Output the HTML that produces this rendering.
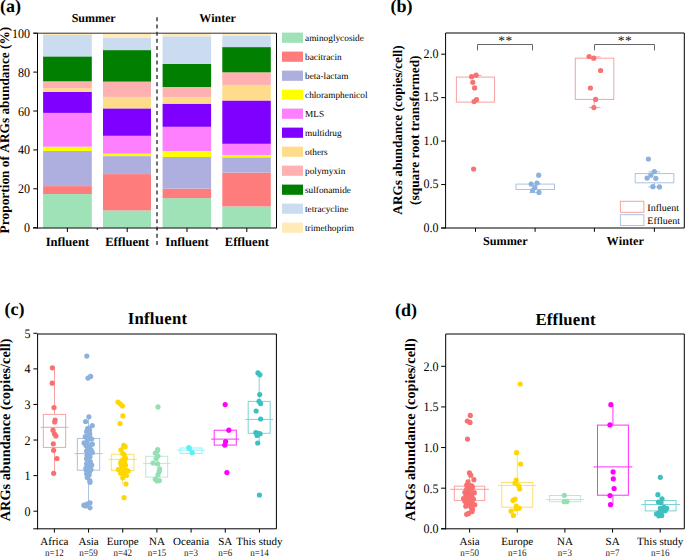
<!DOCTYPE html>
<html><head><meta charset="utf-8"><style>
html,body{margin:0;padding:0;background:#fff;}
svg{display:block;font-family:"Liberation Serif", serif;text-rendering:geometricPrecision;font-variant-ligatures:none;font-kerning:none;}
</style></head><body>
<svg width="685" height="556" viewBox="0 0 685 556">
<rect width="685" height="556" fill="#fff"/>
<text x="0" y="12" font-size="18" font-weight="bold" text-anchor="start" fill="#000" >(a)</text>
<rect x="43.10" y="194.00" width="48.70" height="33.70" fill="#A0E2B8" stroke="none" stroke-width="1" />
<rect x="43.10" y="186.10" width="48.70" height="7.90" fill="#FF7C7C" stroke="none" stroke-width="1" />
<rect x="43.10" y="151.00" width="48.70" height="35.10" fill="#AFAFDF" stroke="none" stroke-width="1" />
<rect x="43.10" y="146.70" width="48.70" height="4.30" fill="#FFFF00" stroke="none" stroke-width="1" />
<rect x="43.10" y="112.90" width="48.70" height="33.80" fill="#FF80FF" stroke="none" stroke-width="1" />
<rect x="43.10" y="91.90" width="48.70" height="21.00" fill="#7F00FF" stroke="none" stroke-width="1" />
<rect x="43.10" y="88.10" width="48.70" height="3.80" fill="#FFDC8C" stroke="none" stroke-width="1" />
<rect x="43.10" y="81.30" width="48.70" height="6.80" fill="#FFB0B0" stroke="none" stroke-width="1" />
<rect x="43.10" y="56.40" width="48.70" height="24.90" fill="#007F00" stroke="none" stroke-width="1" />
<rect x="43.10" y="35.00" width="48.70" height="21.40" fill="#CCDCF0" stroke="none" stroke-width="1" />
<rect x="43.10" y="33.20" width="48.70" height="1.80" fill="#FFEAB8" stroke="none" stroke-width="1" />
<rect x="103.00" y="210.40" width="48.00" height="17.30" fill="#A0E2B8" stroke="none" stroke-width="1" />
<rect x="103.00" y="174.10" width="48.00" height="36.30" fill="#FF7C7C" stroke="none" stroke-width="1" />
<rect x="103.00" y="156.10" width="48.00" height="18.00" fill="#AFAFDF" stroke="none" stroke-width="1" />
<rect x="103.00" y="153.70" width="48.00" height="2.40" fill="#FFFF00" stroke="none" stroke-width="1" />
<rect x="103.00" y="135.80" width="48.00" height="17.90" fill="#FF80FF" stroke="none" stroke-width="1" />
<rect x="103.00" y="108.40" width="48.00" height="27.40" fill="#7F00FF" stroke="none" stroke-width="1" />
<rect x="103.00" y="96.90" width="48.00" height="11.50" fill="#FFDC8C" stroke="none" stroke-width="1" />
<rect x="103.00" y="81.60" width="48.00" height="15.30" fill="#FFB0B0" stroke="none" stroke-width="1" />
<rect x="103.00" y="50.10" width="48.00" height="31.50" fill="#007F00" stroke="none" stroke-width="1" />
<rect x="103.00" y="37.90" width="48.00" height="12.20" fill="#CCDCF0" stroke="none" stroke-width="1" />
<rect x="103.00" y="33.20" width="48.00" height="4.70" fill="#FFEAB8" stroke="none" stroke-width="1" />
<rect x="162.60" y="198.10" width="48.50" height="29.60" fill="#A0E2B8" stroke="none" stroke-width="1" />
<rect x="162.60" y="188.60" width="48.50" height="9.50" fill="#FF7C7C" stroke="none" stroke-width="1" />
<rect x="162.60" y="157.00" width="48.50" height="31.60" fill="#AFAFDF" stroke="none" stroke-width="1" />
<rect x="162.60" y="151.00" width="48.50" height="6.00" fill="#FFFF00" stroke="none" stroke-width="1" />
<rect x="162.60" y="126.80" width="48.50" height="24.20" fill="#FF80FF" stroke="none" stroke-width="1" />
<rect x="162.60" y="103.70" width="48.50" height="23.10" fill="#7F00FF" stroke="none" stroke-width="1" />
<rect x="162.60" y="97.10" width="48.50" height="6.60" fill="#FFDC8C" stroke="none" stroke-width="1" />
<rect x="162.60" y="87.00" width="48.50" height="10.10" fill="#FFB0B0" stroke="none" stroke-width="1" />
<rect x="162.60" y="63.80" width="48.50" height="23.20" fill="#007F00" stroke="none" stroke-width="1" />
<rect x="162.60" y="36.30" width="48.50" height="27.50" fill="#CCDCF0" stroke="none" stroke-width="1" />
<rect x="162.60" y="33.20" width="48.50" height="3.10" fill="#FFEAB8" stroke="none" stroke-width="1" />
<rect x="222.30" y="206.40" width="48.50" height="21.30" fill="#A0E2B8" stroke="none" stroke-width="1" />
<rect x="222.30" y="172.60" width="48.50" height="33.80" fill="#FF7C7C" stroke="none" stroke-width="1" />
<rect x="222.30" y="157.30" width="48.50" height="15.30" fill="#AFAFDF" stroke="none" stroke-width="1" />
<rect x="222.30" y="155.20" width="48.50" height="2.10" fill="#FFFF00" stroke="none" stroke-width="1" />
<rect x="222.30" y="143.80" width="48.50" height="11.40" fill="#FF80FF" stroke="none" stroke-width="1" />
<rect x="222.30" y="100.50" width="48.50" height="43.30" fill="#7F00FF" stroke="none" stroke-width="1" />
<rect x="222.30" y="84.90" width="48.50" height="15.60" fill="#FFDC8C" stroke="none" stroke-width="1" />
<rect x="222.30" y="72.30" width="48.50" height="12.60" fill="#FFB0B0" stroke="none" stroke-width="1" />
<rect x="222.30" y="47.10" width="48.50" height="25.20" fill="#007F00" stroke="none" stroke-width="1" />
<rect x="222.30" y="35.80" width="48.50" height="11.30" fill="#CCDCF0" stroke="none" stroke-width="1" />
<rect x="222.30" y="33.20" width="48.50" height="2.60" fill="#FFEAB8" stroke="none" stroke-width="1" />
<line x1="37.5" y1="33.2" x2="37.5" y2="228.5" stroke="#000" stroke-width="1" />
<line x1="33.0" y1="228.0" x2="276.5" y2="228.0" stroke="#000" stroke-width="1" />
<line x1="33.3" y1="33.2" x2="276.5" y2="33.2" stroke="#333" stroke-width="1" />
<line x1="276.5" y1="33.2" x2="276.5" y2="228.0" stroke="#000" stroke-width="1" />
<line x1="33.3" y1="227.7" x2="37.5" y2="227.7" stroke="#000" stroke-width="1" />
<text transform="translate(30.00,232.20) scale(0.925,1)" font-size="13" font-weight="normal" text-anchor="end" fill="#000" >0</text>
<line x1="33.3" y1="188.79999999999998" x2="37.5" y2="188.79999999999998" stroke="#000" stroke-width="1" />
<text transform="translate(30.00,193.30) scale(0.925,1)" font-size="13" font-weight="normal" text-anchor="end" fill="#000" >20</text>
<line x1="33.3" y1="149.89999999999998" x2="37.5" y2="149.89999999999998" stroke="#000" stroke-width="1" />
<text transform="translate(30.00,154.40) scale(0.925,1)" font-size="13" font-weight="normal" text-anchor="end" fill="#000" >40</text>
<line x1="33.3" y1="110.99999999999999" x2="37.5" y2="110.99999999999999" stroke="#000" stroke-width="1" />
<text transform="translate(30.00,115.50) scale(0.925,1)" font-size="13" font-weight="normal" text-anchor="end" fill="#000" >60</text>
<line x1="33.3" y1="72.1" x2="37.5" y2="72.1" stroke="#000" stroke-width="1" />
<text transform="translate(30.00,76.60) scale(0.925,1)" font-size="13" font-weight="normal" text-anchor="end" fill="#000" >80</text>
<line x1="33.3" y1="33.19999999999999" x2="37.5" y2="33.19999999999999" stroke="#000" stroke-width="1" />
<text transform="translate(30.00,37.70) scale(0.925,1)" font-size="13" font-weight="normal" text-anchor="end" fill="#000" >100</text>
<line x1="67.4" y1="228.0" x2="67.4" y2="232.0" stroke="#000" stroke-width="1" />
<line x1="127.2" y1="228.0" x2="127.2" y2="232.0" stroke="#000" stroke-width="1" />
<line x1="187.0" y1="228.0" x2="187.0" y2="232.0" stroke="#000" stroke-width="1" />
<line x1="246.79999999999998" y1="228.0" x2="246.79999999999998" y2="232.0" stroke="#000" stroke-width="1" />
<line x1="97.3" y1="228.0" x2="97.3" y2="230.0" stroke="#000" stroke-width="1" />
<line x1="157.1" y1="228.0" x2="157.1" y2="230.0" stroke="#000" stroke-width="1" />
<line x1="216.89999999999998" y1="228.0" x2="216.89999999999998" y2="230.0" stroke="#000" stroke-width="1" />
<line x1="157" y1="17.2" x2="157" y2="245" stroke="#333" stroke-width="1.4" stroke-dasharray="4 3.22"/>
<text x="67.4" y="246" font-size="12.6" font-weight="bold" text-anchor="middle" fill="#000" >Influent</text>
<text x="127.2" y="246" font-size="12.6" font-weight="bold" text-anchor="middle" fill="#000" >Effluent</text>
<text x="187.0" y="246" font-size="12.6" font-weight="bold" text-anchor="middle" fill="#000" >Influent</text>
<text x="246.79999999999998" y="246" font-size="12.6" font-weight="bold" text-anchor="middle" fill="#000" >Effluent</text>
<text x="93.7" y="22" font-size="12" font-weight="bold" text-anchor="middle" fill="#000" >Summer</text>
<text x="217.5" y="22" font-size="12" font-weight="bold" text-anchor="middle" fill="#000" >Winter</text>
<text transform="translate(8.8,130.1) rotate(-90)" font-size="13.35" font-weight="bold" text-anchor="middle">Proportion of ARGs abundance (%)</text>
<rect x="282.00" y="32.60" width="21.00" height="10.20" fill="#A0E2B8" stroke="none" stroke-width="1" />
<text x="305" y="40.900000000000006" font-size="9.3" font-weight="normal" text-anchor="start" fill="#000" >aminoglycoside</text>
<rect x="282.00" y="51.60" width="21.00" height="10.20" fill="#FF7C7C" stroke="none" stroke-width="1" />
<text x="305" y="59.900000000000006" font-size="9.3" font-weight="normal" text-anchor="start" fill="#000" >bacitracin</text>
<rect x="282.00" y="70.60" width="21.00" height="10.20" fill="#AFAFDF" stroke="none" stroke-width="1" />
<text x="305" y="78.89999999999999" font-size="9.3" font-weight="normal" text-anchor="start" fill="#000" >beta-lactam</text>
<rect x="282.00" y="89.60" width="21.00" height="10.20" fill="#FFFF00" stroke="none" stroke-width="1" />
<text x="305" y="97.89999999999999" font-size="9.3" font-weight="normal" text-anchor="start" fill="#000" >chloramphenicol</text>
<rect x="282.00" y="108.60" width="21.00" height="10.20" fill="#FF80FF" stroke="none" stroke-width="1" />
<text x="305" y="116.89999999999999" font-size="9.3" font-weight="normal" text-anchor="start" fill="#000" >MLS</text>
<rect x="282.00" y="127.60" width="21.00" height="10.20" fill="#7F00FF" stroke="none" stroke-width="1" />
<text x="305" y="135.9" font-size="9.3" font-weight="normal" text-anchor="start" fill="#000" >multidrug</text>
<rect x="282.00" y="146.60" width="21.00" height="10.20" fill="#FFDC8C" stroke="none" stroke-width="1" />
<text x="305" y="154.9" font-size="9.3" font-weight="normal" text-anchor="start" fill="#000" >others</text>
<rect x="282.00" y="165.60" width="21.00" height="10.20" fill="#FFB0B0" stroke="none" stroke-width="1" />
<text x="305" y="173.9" font-size="9.3" font-weight="normal" text-anchor="start" fill="#000" >polymyxin</text>
<rect x="282.00" y="184.60" width="21.00" height="10.20" fill="#007F00" stroke="none" stroke-width="1" />
<text x="305" y="192.9" font-size="9.3" font-weight="normal" text-anchor="start" fill="#000" >sulfonamide</text>
<rect x="282.00" y="203.60" width="21.00" height="10.20" fill="#CCDCF0" stroke="none" stroke-width="1" />
<text x="305" y="211.9" font-size="9.3" font-weight="normal" text-anchor="start" fill="#000" >tetracycline</text>
<rect x="282.00" y="222.60" width="21.00" height="10.20" fill="#FFEAB8" stroke="none" stroke-width="1" />
<text x="305" y="230.9" font-size="9.3" font-weight="normal" text-anchor="start" fill="#000" >trimethoprim</text>
<text x="390.5" y="12" font-size="18" font-weight="bold" text-anchor="start" fill="#000" >(b)</text>
<line x1="445.6" y1="33.0" x2="445.6" y2="228.5" stroke="#000" stroke-width="1" />
<line x1="441.2" y1="228.0" x2="684.3" y2="228.0" stroke="#000" stroke-width="1" />
<line x1="445.6" y1="33.0" x2="684.3" y2="33.0" stroke="#000" stroke-width="1" />
<line x1="684.3" y1="33.0" x2="684.3" y2="228.0" stroke="#000" stroke-width="1" />
<line x1="441.2" y1="228.0" x2="445.6" y2="228.0" stroke="#000" stroke-width="1" />
<text transform="translate(438.50,231.70) scale(0.925,1)" font-size="13" font-weight="normal" text-anchor="end" fill="#000" >0.0</text>
<line x1="441.2" y1="184.55" x2="445.6" y2="184.55" stroke="#000" stroke-width="1" />
<text transform="translate(438.50,188.25) scale(0.925,1)" font-size="13" font-weight="normal" text-anchor="end" fill="#000" >0.5</text>
<line x1="441.2" y1="141.1" x2="445.6" y2="141.1" stroke="#000" stroke-width="1" />
<text transform="translate(438.50,144.80) scale(0.925,1)" font-size="13" font-weight="normal" text-anchor="end" fill="#000" >1.0</text>
<line x1="441.2" y1="97.64999999999998" x2="445.6" y2="97.64999999999998" stroke="#000" stroke-width="1" />
<text transform="translate(438.50,101.35) scale(0.925,1)" font-size="13" font-weight="normal" text-anchor="end" fill="#000" >1.5</text>
<line x1="441.2" y1="54.19999999999999" x2="445.6" y2="54.19999999999999" stroke="#000" stroke-width="1" />
<text transform="translate(438.50,57.90) scale(0.925,1)" font-size="13" font-weight="normal" text-anchor="end" fill="#000" >2.0</text>
<line x1="475.5" y1="228.0" x2="475.5" y2="231.8" stroke="#000" stroke-width="1" />
<line x1="535.1" y1="228.0" x2="535.1" y2="231.8" stroke="#000" stroke-width="1" />
<line x1="594.4" y1="228.0" x2="594.4" y2="231.8" stroke="#000" stroke-width="1" />
<line x1="654.4" y1="228.0" x2="654.4" y2="231.8" stroke="#000" stroke-width="1" />
<text x="505.3" y="244.5" font-size="12.2" font-weight="bold" text-anchor="middle" fill="#000" >Summer</text>
<text x="625.2" y="244.5" font-size="12.2" font-weight="bold" text-anchor="middle" fill="#000" >Winter</text>
<text transform="translate(401.5,130) rotate(-90)" font-size="13.25" font-weight="bold" text-anchor="middle">ARGs abundance (copies/cell)</text>
<text transform="translate(419.3,130.2) rotate(-90)" font-size="13.4" font-weight="bold" text-anchor="middle">(square root transformed)</text>
<polyline points="477.5,50.4 477.5,44.5 532.5,44.5 532.5,50.4" fill="none" stroke="#666" stroke-width="1"/>
<text x="505.6" y="44.9" font-size="13.5" font-weight="normal" text-anchor="middle" fill="#222" letter-spacing="0.6">**</text>
<polyline points="594.5,50.4 594.5,44.5 654.5,44.5 654.5,50.4" fill="none" stroke="#666" stroke-width="1"/>
<text x="625.1" y="44.9" font-size="13.5" font-weight="normal" text-anchor="middle" fill="#222" letter-spacing="0.6">**</text>
<rect x="456.40" y="77.10" width="38.20" height="25.00" fill="none" stroke="#F8A0A0" stroke-width="1" />
<line x1="472.9" y1="75.4" x2="481.4" y2="75.4" stroke="#F8A0A0" stroke-width="1" />
<circle cx="471.60" cy="76.70" r="2.6" fill="#F87272"/>
<circle cx="476.10" cy="75.20" r="2.6" fill="#F87272"/>
<circle cx="472.80" cy="82.30" r="2.6" fill="#F87272"/>
<circle cx="474.60" cy="87.90" r="2.6" fill="#F87272"/>
<circle cx="476.50" cy="99.60" r="2.6" fill="#F87272"/>
<circle cx="474.10" cy="101.60" r="2.6" fill="#F87272"/>
<circle cx="473.60" cy="169.00" r="2.6" fill="#F87272"/>
<rect x="516.00" y="184.10" width="38.50" height="5.40" fill="none" stroke="#A9C4E6" stroke-width="1" />
<line x1="537.5" y1="183.6" x2="540.7" y2="183.6" stroke="#A9C4E6" stroke-width="1" />
<line x1="529.1" y1="192.6" x2="537" y2="192.6" stroke="#A9C4E6" stroke-width="1" />
<circle cx="538.70" cy="175.20" r="2.6" fill="#8DB1DD"/>
<circle cx="531.20" cy="184.10" r="2.6" fill="#8DB1DD"/>
<circle cx="537.00" cy="183.10" r="2.6" fill="#8DB1DD"/>
<circle cx="534.80" cy="187.60" r="2.6" fill="#8DB1DD"/>
<circle cx="532.60" cy="190.50" r="2.6" fill="#8DB1DD"/>
<circle cx="539.00" cy="192.40" r="2.6" fill="#8DB1DD"/>
<rect x="575.30" y="58.20" width="38.50" height="41.20" fill="none" stroke="#F8A0A0" stroke-width="1" />
<line x1="592" y1="56.9" x2="600.6" y2="56.9" stroke="#F8A0A0" stroke-width="1" />
<line x1="594.2" y1="99.4" x2="594.2" y2="107.6" stroke="#F8A0A0" stroke-width="1" />
<line x1="588.9" y1="107.6" x2="600.6" y2="107.6" stroke="#F8A0A0" stroke-width="1" />
<circle cx="589.10" cy="56.50" r="2.6" fill="#F87272"/>
<circle cx="593.70" cy="58.20" r="2.6" fill="#F87272"/>
<circle cx="600.60" cy="70.50" r="2.6" fill="#F87272"/>
<circle cx="590.40" cy="88.00" r="2.6" fill="#F87272"/>
<circle cx="595.60" cy="99.40" r="2.6" fill="#F87272"/>
<circle cx="593.90" cy="107.60" r="2.6" fill="#F87272"/>
<rect x="635.20" y="173.60" width="38.60" height="9.20" fill="none" stroke="#A9C4E6" stroke-width="1" />
<line x1="648.4" y1="171.8" x2="660.1" y2="171.8" stroke="#A9C4E6" stroke-width="1" />
<line x1="654.5" y1="182.8" x2="654.5" y2="186.9" stroke="#A9C4E6" stroke-width="1" />
<line x1="648.4" y1="186.9" x2="660.1" y2="186.9" stroke="#A9C4E6" stroke-width="1" />
<circle cx="648.40" cy="159.00" r="2.6" fill="#8DB1DD"/>
<circle cx="654.30" cy="171.60" r="2.6" fill="#8DB1DD"/>
<circle cx="650.90" cy="175.20" r="2.6" fill="#8DB1DD"/>
<circle cx="647.10" cy="178.10" r="2.6" fill="#8DB1DD"/>
<circle cx="655.80" cy="178.30" r="2.6" fill="#8DB1DD"/>
<circle cx="652.90" cy="186.70" r="2.6" fill="#8DB1DD"/>
<circle cx="659.50" cy="186.90" r="2.6" fill="#8DB1DD"/>
<rect x="620.40" y="201.30" width="23.50" height="11.00" fill="none" stroke="#F8A0A0" stroke-width="1" />
<rect x="620.40" y="214.70" width="23.50" height="10.80" fill="none" stroke="#A9C4E6" stroke-width="1" />
<text x="647.3" y="210.8" font-size="10" font-weight="normal" text-anchor="start" fill="#000" >Influent</text>
<text x="647.3" y="223.6" font-size="10" font-weight="normal" text-anchor="start" fill="#000" >Effluent</text>
<text x="4.5" y="315" font-size="18" font-weight="bold" text-anchor="start" fill="#000" >(c)</text>
<line x1="37.6" y1="334.0" x2="37.6" y2="529.3" stroke="#000" stroke-width="1" />
<line x1="33.300000000000004" y1="528.8" x2="276.4" y2="528.8" stroke="#000" stroke-width="1" />
<line x1="37.6" y1="334.0" x2="276.4" y2="334.0" stroke="#000" stroke-width="1" />
<line x1="276.4" y1="334.0" x2="276.4" y2="528.8" stroke="#000" stroke-width="1" />
<line x1="33.4" y1="511.2" x2="37.6" y2="511.2" stroke="#000" stroke-width="1" />
<text transform="translate(30.50,515.70) scale(0.925,1)" font-size="13" font-weight="normal" text-anchor="end" fill="#000" >0</text>
<line x1="33.4" y1="475.62" x2="37.6" y2="475.62" stroke="#000" stroke-width="1" />
<text transform="translate(30.50,480.12) scale(0.925,1)" font-size="13" font-weight="normal" text-anchor="end" fill="#000" >1</text>
<line x1="33.4" y1="440.03999999999996" x2="37.6" y2="440.03999999999996" stroke="#000" stroke-width="1" />
<text transform="translate(30.50,444.54) scale(0.925,1)" font-size="13" font-weight="normal" text-anchor="end" fill="#000" >2</text>
<line x1="33.4" y1="404.46" x2="37.6" y2="404.46" stroke="#000" stroke-width="1" />
<text transform="translate(30.50,408.96) scale(0.925,1)" font-size="13" font-weight="normal" text-anchor="end" fill="#000" >3</text>
<line x1="33.4" y1="368.88" x2="37.6" y2="368.88" stroke="#000" stroke-width="1" />
<text transform="translate(30.50,373.38) scale(0.925,1)" font-size="13" font-weight="normal" text-anchor="end" fill="#000" >4</text>
<line x1="33.4" y1="333.3" x2="37.6" y2="333.3" stroke="#000" stroke-width="1" />
<text transform="translate(30.50,337.80) scale(0.925,1)" font-size="13" font-weight="normal" text-anchor="end" fill="#000" >5</text>
<line x1="54.4" y1="528.8" x2="54.4" y2="532.5999999999999" stroke="#000" stroke-width="1" />
<text x="54.4" y="544.8" font-size="11" font-weight="normal" text-anchor="middle" fill="#000" >Africa</text>
<text transform="translate(54.40,556.20) scale(0.9,1)" font-size="10" font-weight="normal" text-anchor="middle" fill="#222" >n=12</text>
<line x1="88.57" y1="528.8" x2="88.57" y2="532.5999999999999" stroke="#000" stroke-width="1" />
<text x="88.57" y="544.8" font-size="11" font-weight="normal" text-anchor="middle" fill="#000" >Asia</text>
<text transform="translate(88.57,556.20) scale(0.9,1)" font-size="10" font-weight="normal" text-anchor="middle" fill="#222" >n=59</text>
<line x1="122.74000000000001" y1="528.8" x2="122.74000000000001" y2="532.5999999999999" stroke="#000" stroke-width="1" />
<text x="122.74000000000001" y="544.8" font-size="11" font-weight="normal" text-anchor="middle" fill="#000" >Europe</text>
<text transform="translate(122.74,556.20) scale(0.9,1)" font-size="10" font-weight="normal" text-anchor="middle" fill="#222" >n=42</text>
<line x1="156.91" y1="528.8" x2="156.91" y2="532.5999999999999" stroke="#000" stroke-width="1" />
<text x="156.91" y="544.8" font-size="11" font-weight="normal" text-anchor="middle" fill="#000" >NA</text>
<text transform="translate(156.91,556.20) scale(0.9,1)" font-size="10" font-weight="normal" text-anchor="middle" fill="#222" >n=15</text>
<line x1="191.08" y1="528.8" x2="191.08" y2="532.5999999999999" stroke="#000" stroke-width="1" />
<text x="191.08" y="544.8" font-size="11" font-weight="normal" text-anchor="middle" fill="#000" >Oceania</text>
<text transform="translate(191.08,556.20) scale(0.9,1)" font-size="10" font-weight="normal" text-anchor="middle" fill="#222" >n=3</text>
<line x1="225.25000000000003" y1="528.8" x2="225.25000000000003" y2="532.5999999999999" stroke="#000" stroke-width="1" />
<text x="225.25000000000003" y="544.8" font-size="11" font-weight="normal" text-anchor="middle" fill="#000" >SA</text>
<text transform="translate(225.25,556.20) scale(0.9,1)" font-size="10" font-weight="normal" text-anchor="middle" fill="#222" >n=6</text>
<line x1="259.42" y1="528.8" x2="259.42" y2="532.5999999999999" stroke="#000" stroke-width="1" />
<text x="259.42" y="544.8" font-size="11" font-weight="normal" text-anchor="middle" fill="#000" >This study</text>
<text transform="translate(259.42,556.20) scale(0.9,1)" font-size="10" font-weight="normal" text-anchor="middle" fill="#222" >n=14</text>
<text x="157.5" y="323.7" font-size="16.8" font-weight="bold" text-anchor="middle" fill="#000" letter-spacing="0.2">Influent</text>
<text transform="translate(10.3,429.9) rotate(-90)" font-size="14.3" font-weight="bold" text-anchor="middle">ARGs abundance (copies/cell)</text>
<line x1="54.5" y1="367.8" x2="54.5" y2="414.4" stroke="#F8A2A2" stroke-width="1" />
<line x1="54.5" y1="447.4" x2="54.5" y2="473.3" stroke="#F8A2A2" stroke-width="1" />
<rect x="43.35" y="414.40" width="22.30" height="33.00" fill="none" stroke="#F8A2A2" stroke-width="1" />
<line x1="40.550000000000004" y1="427.3" x2="68.45" y2="427.3" stroke="#F8A2A2" stroke-width="1" />
<circle cx="52.40" cy="367.80" r="2.6" fill="#F87070"/>
<circle cx="52.20" cy="383.20" r="2.6" fill="#F87070"/>
<circle cx="54.00" cy="407.60" r="2.6" fill="#F87070"/>
<circle cx="55.10" cy="420.10" r="2.6" fill="#F87070"/>
<circle cx="54.70" cy="422.00" r="2.6" fill="#F87070"/>
<circle cx="53.00" cy="430.20" r="2.6" fill="#F87070"/>
<circle cx="54.40" cy="433.80" r="2.6" fill="#F87070"/>
<circle cx="55.90" cy="435.90" r="2.6" fill="#F87070"/>
<circle cx="53.30" cy="443.80" r="2.6" fill="#F87070"/>
<circle cx="53.60" cy="450.30" r="2.6" fill="#F87070"/>
<circle cx="56.90" cy="458.50" r="2.6" fill="#F87070"/>
<circle cx="53.70" cy="473.30" r="2.6" fill="#F87070"/>
<line x1="88.5" y1="416.7" x2="88.5" y2="438.5" stroke="#A9C4E6" stroke-width="1" />
<line x1="88.5" y1="470.2" x2="88.5" y2="502.8" stroke="#A9C4E6" stroke-width="1" />
<rect x="77.35" y="438.50" width="22.30" height="31.70" fill="none" stroke="#A9C4E6" stroke-width="1" />
<line x1="74.55" y1="453.6" x2="102.45" y2="453.6" stroke="#A9C4E6" stroke-width="1" />
<circle cx="86.80" cy="356.10" r="2.6" fill="#8DB1DD"/>
<circle cx="90.60" cy="376.40" r="2.6" fill="#8DB1DD"/>
<circle cx="88.00" cy="378.10" r="2.6" fill="#8DB1DD"/>
<circle cx="88.90" cy="416.80" r="2.6" fill="#8DB1DD"/>
<circle cx="85.60" cy="421.50" r="2.6" fill="#8DB1DD"/>
<circle cx="92.30" cy="425.60" r="2.6" fill="#8DB1DD"/>
<circle cx="89.10" cy="428.40" r="2.6" fill="#8DB1DD"/>
<circle cx="86.60" cy="431.50" r="2.6" fill="#8DB1DD"/>
<circle cx="89.80" cy="434.00" r="2.6" fill="#8DB1DD"/>
<circle cx="85.30" cy="436.60" r="2.6" fill="#8DB1DD"/>
<circle cx="90.40" cy="438.50" r="2.6" fill="#8DB1DD"/>
<circle cx="91.70" cy="439.10" r="2.6" fill="#8DB1DD"/>
<circle cx="84.10" cy="442.90" r="2.6" fill="#8DB1DD"/>
<circle cx="87.20" cy="442.30" r="2.6" fill="#8DB1DD"/>
<circle cx="92.30" cy="444.20" r="2.6" fill="#8DB1DD"/>
<circle cx="86.00" cy="445.40" r="2.6" fill="#8DB1DD"/>
<circle cx="89.80" cy="446.00" r="2.6" fill="#8DB1DD"/>
<circle cx="87.90" cy="448.60" r="2.6" fill="#8DB1DD"/>
<circle cx="91.00" cy="449.80" r="2.6" fill="#8DB1DD"/>
<circle cx="86.60" cy="451.10" r="2.6" fill="#8DB1DD"/>
<circle cx="92.30" cy="452.40" r="2.6" fill="#8DB1DD"/>
<circle cx="88.50" cy="453.60" r="2.6" fill="#8DB1DD"/>
<circle cx="87.20" cy="455.50" r="2.6" fill="#8DB1DD"/>
<circle cx="89.80" cy="456.10" r="2.6" fill="#8DB1DD"/>
<circle cx="86.60" cy="458.70" r="2.6" fill="#8DB1DD"/>
<circle cx="90.40" cy="461.80" r="2.6" fill="#8DB1DD"/>
<circle cx="86.60" cy="463.70" r="2.6" fill="#8DB1DD"/>
<circle cx="91.70" cy="465.00" r="2.6" fill="#8DB1DD"/>
<circle cx="88.50" cy="466.20" r="2.6" fill="#8DB1DD"/>
<circle cx="86.00" cy="468.10" r="2.6" fill="#8DB1DD"/>
<circle cx="91.00" cy="469.40" r="2.6" fill="#8DB1DD"/>
<circle cx="87.90" cy="471.30" r="2.6" fill="#8DB1DD"/>
<circle cx="86.60" cy="473.80" r="2.6" fill="#8DB1DD"/>
<circle cx="89.10" cy="475.10" r="2.6" fill="#8DB1DD"/>
<circle cx="87.20" cy="477.60" r="2.6" fill="#8DB1DD"/>
<circle cx="89.80" cy="480.70" r="2.6" fill="#8DB1DD"/>
<circle cx="87.19" cy="454.76" r="2.6" fill="#8DB1DD"/>
<circle cx="87.85" cy="457.80" r="2.6" fill="#8DB1DD"/>
<circle cx="89.13" cy="430.34" r="2.6" fill="#8DB1DD"/>
<circle cx="86.07" cy="469.71" r="2.6" fill="#8DB1DD"/>
<circle cx="87.30" cy="438.95" r="2.6" fill="#8DB1DD"/>
<circle cx="90.98" cy="450.98" r="2.6" fill="#8DB1DD"/>
<circle cx="90.18" cy="451.29" r="2.6" fill="#8DB1DD"/>
<circle cx="89.20" cy="434.68" r="2.6" fill="#8DB1DD"/>
<circle cx="89.17" cy="471.27" r="2.6" fill="#8DB1DD"/>
<circle cx="88.62" cy="464.80" r="2.6" fill="#8DB1DD"/>
<circle cx="89.36" cy="430.27" r="2.6" fill="#8DB1DD"/>
<circle cx="89.79" cy="457.15" r="2.6" fill="#8DB1DD"/>
<circle cx="87.51" cy="428.58" r="2.6" fill="#8DB1DD"/>
<circle cx="90.33" cy="451.11" r="2.6" fill="#8DB1DD"/>
<circle cx="89.59" cy="471.82" r="2.6" fill="#8DB1DD"/>
<circle cx="90.00" cy="482.30" r="2.6" fill="#8DB1DD"/>
<circle cx="83.90" cy="505.20" r="2.6" fill="#8DB1DD"/>
<circle cx="87.00" cy="504.10" r="2.6" fill="#8DB1DD"/>
<circle cx="90.00" cy="502.80" r="2.6" fill="#8DB1DD"/>
<circle cx="90.00" cy="507.80" r="2.6" fill="#8DB1DD"/>
<circle cx="85.60" cy="506.00" r="2.6" fill="#8DB1DD"/>
<line x1="122.6" y1="470.5" x2="122.6" y2="484" stroke="#FFDF66" stroke-width="1" />
<rect x="111.30" y="454.30" width="22.60" height="16.20" fill="none" stroke="#FFDF66" stroke-width="1" />
<line x1="108.5" y1="459.4" x2="136.70000000000002" y2="459.4" stroke="#FFDF66" stroke-width="1" />
<circle cx="118.00" cy="402.10" r="2.6" fill="#FFD700"/>
<circle cx="120.20" cy="403.80" r="2.6" fill="#FFD700"/>
<circle cx="122.50" cy="406.00" r="2.6" fill="#FFD700"/>
<circle cx="122.90" cy="415.90" r="2.6" fill="#FFD700"/>
<circle cx="120.00" cy="423.60" r="2.6" fill="#FFD700"/>
<circle cx="123.70" cy="445.40" r="2.6" fill="#FFD700"/>
<circle cx="125.10" cy="446.70" r="2.6" fill="#FFD700"/>
<circle cx="121.00" cy="449.90" r="2.6" fill="#FFD700"/>
<circle cx="122.80" cy="453.50" r="2.6" fill="#FFD700"/>
<circle cx="124.20" cy="454.80" r="2.6" fill="#FFD700"/>
<circle cx="125.50" cy="458.40" r="2.6" fill="#FFD700"/>
<circle cx="122.80" cy="459.80" r="2.6" fill="#FFD700"/>
<circle cx="120.60" cy="462.90" r="2.6" fill="#FFD700"/>
<circle cx="124.60" cy="462.50" r="2.6" fill="#FFD700"/>
<circle cx="121.50" cy="465.20" r="2.6" fill="#FFD700"/>
<circle cx="125.50" cy="465.20" r="2.6" fill="#FFD700"/>
<circle cx="122.80" cy="467.00" r="2.6" fill="#FFD700"/>
<circle cx="118.30" cy="469.60" r="2.6" fill="#FFD700"/>
<circle cx="120.60" cy="470.10" r="2.6" fill="#FFD700"/>
<circle cx="123.30" cy="469.60" r="2.6" fill="#FFD700"/>
<circle cx="126.00" cy="470.10" r="2.6" fill="#FFD700"/>
<circle cx="128.20" cy="471.00" r="2.6" fill="#FFD700"/>
<circle cx="120.60" cy="473.20" r="2.6" fill="#FFD700"/>
<circle cx="123.70" cy="472.30" r="2.6" fill="#FFD700"/>
<circle cx="126.40" cy="475.50" r="2.6" fill="#FFD700"/>
<circle cx="122.80" cy="477.70" r="2.6" fill="#FFD700"/>
<circle cx="126.00" cy="484.00" r="2.6" fill="#FFD700"/>
<circle cx="124.00" cy="497.70" r="2.6" fill="#FFD700"/>
<circle cx="123.66" cy="472.74" r="2.6" fill="#FFD700"/>
<circle cx="122.38" cy="470.81" r="2.6" fill="#FFD700"/>
<circle cx="122.58" cy="472.97" r="2.6" fill="#FFD700"/>
<circle cx="124.32" cy="459.56" r="2.6" fill="#FFD700"/>
<circle cx="121.34" cy="461.47" r="2.6" fill="#FFD700"/>
<circle cx="124.66" cy="464.98" r="2.6" fill="#FFD700"/>
<circle cx="123.31" cy="462.82" r="2.6" fill="#FFD700"/>
<circle cx="122.83" cy="464.17" r="2.6" fill="#FFD700"/>
<circle cx="122.20" cy="467.36" r="2.6" fill="#FFD700"/>
<circle cx="123.14" cy="472.47" r="2.6" fill="#FFD700"/>
<circle cx="123.53" cy="472.86" r="2.6" fill="#FFD700"/>
<circle cx="124.23" cy="473.86" r="2.6" fill="#FFD700"/>
<line x1="156.7" y1="449.6" x2="156.7" y2="456.3" stroke="#B8EBCC" stroke-width="1" />
<line x1="156.7" y1="477.1" x2="156.7" y2="481" stroke="#B8EBCC" stroke-width="1" />
<rect x="145.75" y="456.30" width="21.90" height="20.80" fill="none" stroke="#B8EBCC" stroke-width="1" />
<line x1="142.95" y1="463.4" x2="170.45" y2="463.4" stroke="#B8EBCC" stroke-width="1" />
<circle cx="158.00" cy="406.90" r="2.6" fill="#94E0B4"/>
<circle cx="157.60" cy="449.60" r="2.6" fill="#94E0B4"/>
<circle cx="157.60" cy="450.40" r="2.6" fill="#94E0B4"/>
<circle cx="155.30" cy="453.10" r="2.6" fill="#94E0B4"/>
<circle cx="158.00" cy="456.10" r="2.6" fill="#94E0B4"/>
<circle cx="156.20" cy="458.50" r="2.6" fill="#94E0B4"/>
<circle cx="153.10" cy="463.00" r="2.6" fill="#94E0B4"/>
<circle cx="157.60" cy="463.90" r="2.6" fill="#94E0B4"/>
<circle cx="159.60" cy="468.90" r="2.6" fill="#94E0B4"/>
<circle cx="159.20" cy="471.40" r="2.6" fill="#94E0B4"/>
<circle cx="158.00" cy="474.70" r="2.6" fill="#94E0B4"/>
<circle cx="155.30" cy="479.20" r="2.6" fill="#94E0B4"/>
<circle cx="159.40" cy="480.60" r="2.6" fill="#94E0B4"/>
<circle cx="157.10" cy="481.00" r="2.6" fill="#94E0B4"/>
<rect x="180.10" y="448.00" width="21.90" height="5.40" fill="none" stroke="#8CF4F8" stroke-width="1" />
<line x1="177.20000000000002" y1="450.1" x2="204.9" y2="450.1" stroke="#8CF4F8" stroke-width="1" />
<circle cx="188.70" cy="447.50" r="2.6" fill="#5CEFF5"/>
<circle cx="189.40" cy="448.40" r="2.6" fill="#5CEFF5"/>
<circle cx="192.10" cy="452.70" r="2.6" fill="#5CEFF5"/>
<rect x="214.20" y="430.20" width="22.10" height="14.90" fill="none" stroke="#FF30FF" stroke-width="1" />
<line x1="211.2" y1="439.1" x2="239.3" y2="439.1" stroke="#FF30FF" stroke-width="1" />
<circle cx="225.20" cy="404.60" r="2.6" fill="#FF00FF"/>
<circle cx="228.80" cy="430.20" r="2.6" fill="#FF00FF"/>
<circle cx="225.60" cy="441.50" r="2.6" fill="#FF00FF"/>
<circle cx="224.80" cy="445.10" r="2.6" fill="#FF00FF"/>
<circle cx="226.90" cy="472.60" r="2.6" fill="#FF00FF"/>
<line x1="259.2" y1="372.9" x2="259.2" y2="401.4" stroke="#7CD4D5" stroke-width="1" />
<line x1="259.2" y1="433.3" x2="259.2" y2="443" stroke="#7CD4D5" stroke-width="1" />
<rect x="248.20" y="401.40" width="22.00" height="31.90" fill="none" stroke="#7CD4D5" stroke-width="1" />
<line x1="245.29999999999998" y1="419.4" x2="273.09999999999997" y2="419.4" stroke="#7CD4D5" stroke-width="1" />
<circle cx="258.00" cy="372.90" r="2.6" fill="#3EBFC0"/>
<circle cx="259.90" cy="374.80" r="2.6" fill="#3EBFC0"/>
<circle cx="259.70" cy="394.50" r="2.6" fill="#3EBFC0"/>
<circle cx="259.00" cy="401.30" r="2.6" fill="#3EBFC0"/>
<circle cx="260.60" cy="403.60" r="2.6" fill="#3EBFC0"/>
<circle cx="256.10" cy="411.00" r="2.6" fill="#3EBFC0"/>
<circle cx="260.60" cy="419.00" r="2.6" fill="#3EBFC0"/>
<circle cx="255.80" cy="432.60" r="2.6" fill="#3EBFC0"/>
<circle cx="258.40" cy="433.30" r="2.6" fill="#3EBFC0"/>
<circle cx="260.10" cy="433.80" r="2.6" fill="#3EBFC0"/>
<circle cx="257.00" cy="435.50" r="2.6" fill="#3EBFC0"/>
<circle cx="257.70" cy="443.00" r="2.6" fill="#3EBFC0"/>
<circle cx="259.40" cy="495.00" r="2.6" fill="#3EBFC0"/>
<text x="395" y="316" font-size="18" font-weight="bold" text-anchor="start" fill="#000" >(d)</text>
<line x1="445.7" y1="334.0" x2="445.7" y2="529.3" stroke="#000" stroke-width="1" />
<line x1="441.1" y1="528.8" x2="684.3" y2="528.8" stroke="#000" stroke-width="1" />
<line x1="445.7" y1="334.0" x2="684.3" y2="334.0" stroke="#000" stroke-width="1" />
<line x1="684.3" y1="334.0" x2="684.3" y2="528.8" stroke="#000" stroke-width="1" />
<line x1="441.1" y1="528.8" x2="445.7" y2="528.8" stroke="#000" stroke-width="1" />
<text transform="translate(438.50,533.20) scale(0.925,1)" font-size="13" font-weight="normal" text-anchor="end" fill="#000" >0.0</text>
<line x1="441.1" y1="488.17499999999995" x2="445.7" y2="488.17499999999995" stroke="#000" stroke-width="1" />
<text transform="translate(438.50,492.57) scale(0.925,1)" font-size="13" font-weight="normal" text-anchor="end" fill="#000" >0.5</text>
<line x1="441.1" y1="447.54999999999995" x2="445.7" y2="447.54999999999995" stroke="#000" stroke-width="1" />
<text transform="translate(438.50,451.95) scale(0.925,1)" font-size="13" font-weight="normal" text-anchor="end" fill="#000" >1.0</text>
<line x1="441.1" y1="406.92499999999995" x2="445.7" y2="406.92499999999995" stroke="#000" stroke-width="1" />
<text transform="translate(438.50,411.32) scale(0.925,1)" font-size="13" font-weight="normal" text-anchor="end" fill="#000" >1.5</text>
<line x1="441.1" y1="366.29999999999995" x2="445.7" y2="366.29999999999995" stroke="#000" stroke-width="1" />
<text transform="translate(438.50,370.70) scale(0.925,1)" font-size="13" font-weight="normal" text-anchor="end" fill="#000" >2.0</text>
<line x1="469.6" y1="528.8" x2="469.6" y2="532.5999999999999" stroke="#000" stroke-width="1" />
<text x="469.6" y="544.8" font-size="11" font-weight="normal" text-anchor="middle" fill="#000" >Asia</text>
<text transform="translate(469.60,556.20) scale(0.9,1)" font-size="10" font-weight="normal" text-anchor="middle" fill="#222" >n=50</text>
<line x1="517.25" y1="528.8" x2="517.25" y2="532.5999999999999" stroke="#000" stroke-width="1" />
<text x="517.25" y="544.8" font-size="11" font-weight="normal" text-anchor="middle" fill="#000" >Europe</text>
<text transform="translate(517.25,556.20) scale(0.9,1)" font-size="10" font-weight="normal" text-anchor="middle" fill="#222" >n=16</text>
<line x1="564.9" y1="528.8" x2="564.9" y2="532.5999999999999" stroke="#000" stroke-width="1" />
<text x="564.9" y="544.8" font-size="11" font-weight="normal" text-anchor="middle" fill="#000" >NA</text>
<text transform="translate(564.90,556.20) scale(0.9,1)" font-size="10" font-weight="normal" text-anchor="middle" fill="#222" >n=3</text>
<line x1="612.55" y1="528.8" x2="612.55" y2="532.5999999999999" stroke="#000" stroke-width="1" />
<text x="612.55" y="544.8" font-size="11" font-weight="normal" text-anchor="middle" fill="#000" >SA</text>
<text transform="translate(612.55,556.20) scale(0.9,1)" font-size="10" font-weight="normal" text-anchor="middle" fill="#222" >n=7</text>
<line x1="660.2" y1="528.8" x2="660.2" y2="532.5999999999999" stroke="#000" stroke-width="1" />
<text x="660.2" y="544.8" font-size="11" font-weight="normal" text-anchor="middle" fill="#000" >This study</text>
<text transform="translate(660.20,556.20) scale(0.9,1)" font-size="10" font-weight="normal" text-anchor="middle" fill="#222" >n=16</text>
<text x="565.6" y="324.5" font-size="16.8" font-weight="bold" text-anchor="middle" fill="#000" letter-spacing="0.2">Effluent</text>
<text transform="translate(415,429.6) rotate(-90)" font-size="14.3" font-weight="bold" text-anchor="middle">ARGs abundance (copies/cell)</text>
<line x1="469.5" y1="473.2" x2="469.5" y2="486.2" stroke="#F8A2A2" stroke-width="1" />
<line x1="469.5" y1="500.6" x2="469.5" y2="514.4" stroke="#F8A2A2" stroke-width="1" />
<rect x="454.30" y="486.20" width="30.40" height="14.40" fill="none" stroke="#F8A2A2" stroke-width="1" />
<line x1="450.1" y1="489.3" x2="488.9" y2="489.3" stroke="#F8A2A2" stroke-width="1" />
<circle cx="470.30" cy="415.40" r="2.6" fill="#F87070"/>
<circle cx="467.30" cy="421.00" r="2.6" fill="#F87070"/>
<circle cx="470.00" cy="422.40" r="2.6" fill="#F87070"/>
<circle cx="467.50" cy="439.10" r="2.6" fill="#F87070"/>
<circle cx="469.40" cy="472.90" r="2.6" fill="#F87070"/>
<circle cx="470.70" cy="475.20" r="2.6" fill="#F87070"/>
<circle cx="473.90" cy="479.70" r="2.6" fill="#F87070"/>
<circle cx="468.00" cy="481.90" r="2.6" fill="#F87070"/>
<circle cx="466.70" cy="485.10" r="2.6" fill="#F87070"/>
<circle cx="469.80" cy="485.50" r="2.6" fill="#F87070"/>
<circle cx="472.50" cy="487.30" r="2.6" fill="#F87070"/>
<circle cx="466.70" cy="489.10" r="2.6" fill="#F87070"/>
<circle cx="469.40" cy="490.00" r="2.6" fill="#F87070"/>
<circle cx="464.90" cy="492.30" r="2.6" fill="#F87070"/>
<circle cx="474.30" cy="492.70" r="2.6" fill="#F87070"/>
<circle cx="467.60" cy="493.60" r="2.6" fill="#F87070"/>
<circle cx="471.20" cy="494.50" r="2.6" fill="#F87070"/>
<circle cx="465.80" cy="495.90" r="2.6" fill="#F87070"/>
<circle cx="468.90" cy="496.80" r="2.6" fill="#F87070"/>
<circle cx="463.50" cy="498.50" r="2.6" fill="#F87070"/>
<circle cx="466.70" cy="499.00" r="2.6" fill="#F87070"/>
<circle cx="473.40" cy="499.00" r="2.6" fill="#F87070"/>
<circle cx="470.30" cy="499.90" r="2.6" fill="#F87070"/>
<circle cx="464.90" cy="501.20" r="2.6" fill="#F87070"/>
<circle cx="468.50" cy="502.10" r="2.6" fill="#F87070"/>
<circle cx="472.10" cy="502.60" r="2.6" fill="#F87070"/>
<circle cx="466.70" cy="503.90" r="2.6" fill="#F87070"/>
<circle cx="474.80" cy="504.80" r="2.6" fill="#F87070"/>
<circle cx="465.80" cy="506.20" r="2.6" fill="#F87070"/>
<circle cx="470.70" cy="506.60" r="2.6" fill="#F87070"/>
<circle cx="472.50" cy="509.30" r="2.6" fill="#F87070"/>
<circle cx="472.10" cy="511.60" r="2.6" fill="#F87070"/>
<circle cx="466.70" cy="514.30" r="2.6" fill="#F87070"/>
<circle cx="468.50" cy="513.40" r="2.6" fill="#F87070"/>
<circle cx="470.53" cy="488.26" r="2.6" fill="#F87070"/>
<circle cx="471.66" cy="504.29" r="2.6" fill="#F87070"/>
<circle cx="471.93" cy="496.38" r="2.6" fill="#F87070"/>
<circle cx="470.78" cy="489.22" r="2.6" fill="#F87070"/>
<circle cx="471.49" cy="496.47" r="2.6" fill="#F87070"/>
<circle cx="468.21" cy="486.27" r="2.6" fill="#F87070"/>
<circle cx="471.62" cy="504.80" r="2.6" fill="#F87070"/>
<circle cx="467.03" cy="501.01" r="2.6" fill="#F87070"/>
<circle cx="468.96" cy="488.02" r="2.6" fill="#F87070"/>
<circle cx="468.26" cy="500.38" r="2.6" fill="#F87070"/>
<circle cx="471.74" cy="485.88" r="2.6" fill="#F87070"/>
<circle cx="470.19" cy="485.90" r="2.6" fill="#F87070"/>
<line x1="517.3" y1="452.7" x2="517.3" y2="482.4" stroke="#FFDF66" stroke-width="1" />
<line x1="517.3" y1="507.2" x2="517.3" y2="515.5" stroke="#FFDF66" stroke-width="1" />
<rect x="501.80" y="482.40" width="31.00" height="24.80" fill="none" stroke="#FFDF66" stroke-width="1" />
<line x1="498.19999999999993" y1="485.5" x2="536.4" y2="485.5" stroke="#FFDF66" stroke-width="1" />
<circle cx="520.20" cy="384.00" r="2.6" fill="#FFD700"/>
<circle cx="516.60" cy="452.70" r="2.6" fill="#FFD700"/>
<circle cx="520.60" cy="464.00" r="2.6" fill="#FFD700"/>
<circle cx="516.20" cy="480.00" r="2.6" fill="#FFD700"/>
<circle cx="515.10" cy="483.20" r="2.6" fill="#FFD700"/>
<circle cx="518.70" cy="485.80" r="2.6" fill="#FFD700"/>
<circle cx="519.70" cy="488.90" r="2.6" fill="#FFD700"/>
<circle cx="513.00" cy="500.40" r="2.6" fill="#FFD700"/>
<circle cx="515.10" cy="499.00" r="2.6" fill="#FFD700"/>
<circle cx="516.30" cy="506.20" r="2.6" fill="#FFD700"/>
<circle cx="519.20" cy="508.30" r="2.6" fill="#FFD700"/>
<circle cx="515.90" cy="508.80" r="2.6" fill="#FFD700"/>
<circle cx="511.10" cy="511.20" r="2.6" fill="#FFD700"/>
<circle cx="513.40" cy="515.50" r="2.6" fill="#FFD700"/>
<rect x="549.40" y="495.50" width="31.20" height="6.20" fill="none" stroke="#B8EBCC" stroke-width="1" />
<line x1="545.9" y1="499.6" x2="584.1" y2="499.6" stroke="#B8EBCC" stroke-width="1" />
<circle cx="564.30" cy="495.30" r="2.6" fill="#94E0B4"/>
<circle cx="564.30" cy="501.70" r="2.6" fill="#94E0B4"/>
<circle cx="566.90" cy="501.60" r="2.6" fill="#94E0B4"/>
<line x1="612.95" y1="404.7" x2="612.95" y2="425.1" stroke="#FF30FF" stroke-width="1" />
<line x1="612.95" y1="495.2" x2="612.95" y2="504.7" stroke="#FF30FF" stroke-width="1" />
<rect x="597.50" y="425.10" width="30.90" height="70.10" fill="none" stroke="#FF30FF" stroke-width="1" />
<line x1="593.6" y1="466.9" x2="632.3000000000001" y2="466.9" stroke="#FF30FF" stroke-width="1" />
<circle cx="610.90" cy="404.70" r="2.6" fill="#FF00FF"/>
<circle cx="610.00" cy="424.90" r="2.6" fill="#FF00FF"/>
<circle cx="613.10" cy="471.90" r="2.6" fill="#FF00FF"/>
<circle cx="613.30" cy="478.80" r="2.6" fill="#FF00FF"/>
<circle cx="614.10" cy="488.50" r="2.6" fill="#FF00FF"/>
<circle cx="610.00" cy="495.60" r="2.6" fill="#FF00FF"/>
<circle cx="610.50" cy="504.70" r="2.6" fill="#FF00FF"/>
<rect x="645.20" y="500.50" width="30.90" height="10.40" fill="none" stroke="#7CD4D5" stroke-width="1" />
<line x1="641.3" y1="504.5" x2="680.0" y2="504.5" stroke="#7CD4D5" stroke-width="1" />
<circle cx="660.30" cy="477.30" r="2.6" fill="#3EBFC0"/>
<circle cx="657.90" cy="494.70" r="2.6" fill="#3EBFC0"/>
<circle cx="662.00" cy="498.80" r="2.6" fill="#3EBFC0"/>
<circle cx="658.50" cy="502.00" r="2.6" fill="#3EBFC0"/>
<circle cx="661.00" cy="502.60" r="2.6" fill="#3EBFC0"/>
<circle cx="660.40" cy="508.30" r="2.6" fill="#3EBFC0"/>
<circle cx="663.90" cy="507.30" r="2.6" fill="#3EBFC0"/>
<circle cx="666.70" cy="508.30" r="2.6" fill="#3EBFC0"/>
<circle cx="665.10" cy="510.80" r="2.6" fill="#3EBFC0"/>
<circle cx="662.00" cy="511.40" r="2.6" fill="#3EBFC0"/>
<circle cx="659.20" cy="512.70" r="2.6" fill="#3EBFC0"/>
<circle cx="656.60" cy="513.90" r="2.6" fill="#3EBFC0"/>
<circle cx="658.80" cy="515.80" r="2.6" fill="#3EBFC0"/>
<circle cx="661.70" cy="515.50" r="2.6" fill="#3EBFC0"/>
</svg></body></html>
